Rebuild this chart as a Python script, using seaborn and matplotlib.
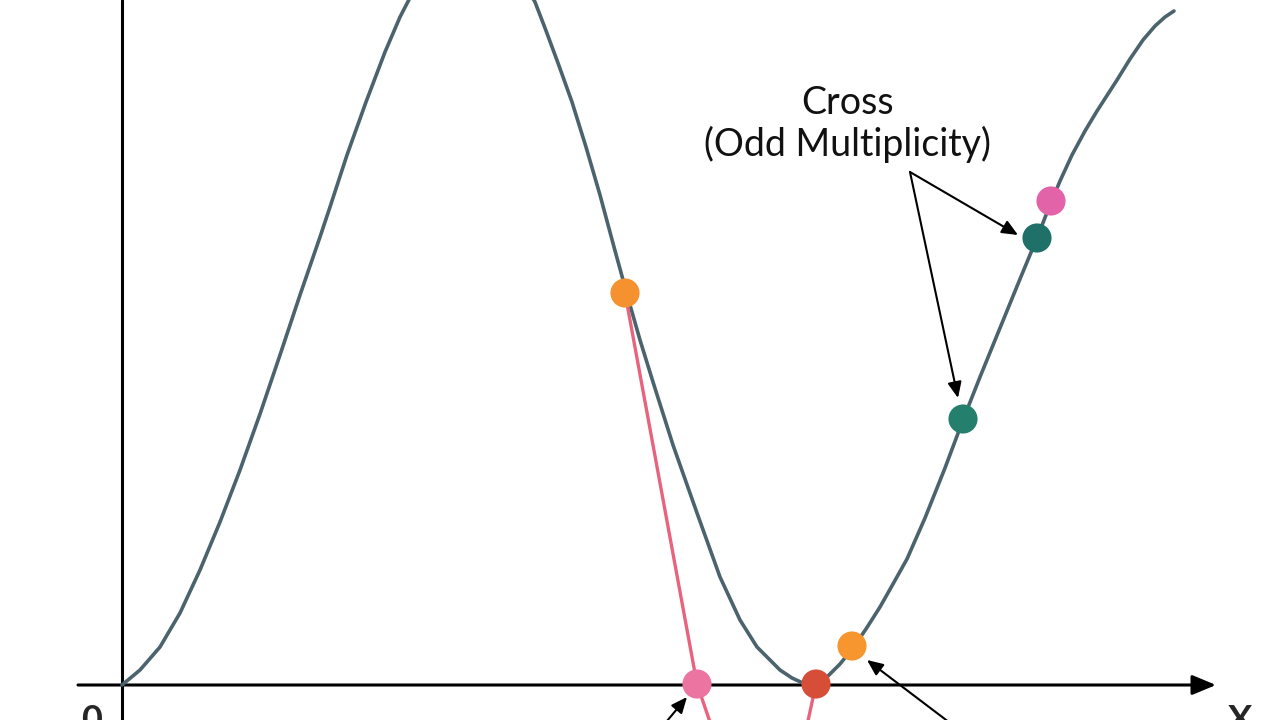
import matplotlib.pyplot as plt
import pandas as pd
import seaborn as sns

# curve (x, y in plot units, origin at the axes corner)
curve_x = [0.00, 0.18, 0.38, 0.58, 0.78, 0.98, 1.18, 1.38, 1.58, 1.78, 1.98, 2.08,
           2.25, 2.44, 2.63, 2.78, 2.93, 3.08, 3.23, 3.38, 3.48, 3.58, 3.73, 3.88,
           4.00, 4.13, 4.23, 4.36, 4.50, 4.64, 4.78, 4.92, 5.06, 5.18, 5.31, 5.51,
           5.75, 5.98, 6.18, 6.35, 6.48, 6.58, 6.70, 6.83, 6.94, 7.05, 7.18, 7.31,
           7.44, 7.58, 7.71, 7.85, 8.03, 8.23, 8.41, 8.58, 8.78, 8.98, 9.15, 9.26,
           9.38, 9.50, 9.63, 9.75, 9.95, 10.08, 10.21, 10.33, 10.43, 10.52]
curve_y = [0.00, 0.15, 0.38, 0.72, 1.15, 1.63, 2.15, 2.71, 3.30, 3.90, 4.48, 4.78,
           5.30, 5.83, 6.33, 6.68, 6.97, 7.18, 7.32, 7.41, 7.43, 7.42, 7.35, 7.21,
           7.05, 6.83, 6.57, 6.22, 5.83, 5.38, 4.90, 4.38, 3.87, 3.45, 3.03, 2.40,
           1.72, 1.08, 0.65, 0.38, 0.25, 0.15, 0.07, 0.01, 0.02, 0.08, 0.21, 0.37,
           0.56, 0.78, 1.01, 1.26, 1.67, 2.17, 2.65, 3.08, 3.57, 4.06, 4.47, 4.75,
           5.04, 5.30, 5.54, 5.74, 6.05, 6.26, 6.45, 6.59, 6.68, 6.74]

# highlighted points
pt_x = [5.03, 5.75, 6.94, 7.30, 8.41, 9.15, 9.29]
pt_y = [3.92, 0.01, 0.01, 0.39, 2.66, 4.47, 4.84]
pt_color = ["#f5912e", "#ec74a0", "#d64e37", "#f7962f", "#24806c", "#1f7069", "#e263a8"]

# straight pink segments
seg1_x = [5.03, 5.75, 5.89]
seg1_y = [3.92, 0.01, -0.40]
seg2_x = [6.94, 6.84]
seg2_y = [0.01, -0.45]

label = "Cross\n(Odd Multiplicity)"

sns.set_theme(style="white")
plt.rcParams["font.family"] = ["Lato", "DejaVu Sans"]

fig = plt.figure(figsize=(12.8, 7.2), dpi=100)
ax = fig.add_axes([0, 0, 1, 1])
ax.set_xlim(-1.22, 11.58)
ax.set_ylim(-0.35, 6.85)
ax.axis("off")

# axes
ax.axvline(0, color="black", lw=2.2, zorder=1)
ax.annotate("", xy=(10.94, 0), xytext=(-0.44, 0),
            arrowprops=dict(arrowstyle="-|>,head_length=1.2,head_width=0.5",
                            color="black", lw=2.2, shrinkA=0, shrinkB=0), zorder=1)

curve = pd.DataFrame({"x": curve_x, "y": curve_y})
sns.lineplot(data=curve, x="x", y="y", sort=False, color="#4b636c", lw=2.6, ax=ax,
             zorder=2, solid_joinstyle="round", solid_capstyle="round")

ax.plot(seg1_x, seg1_y, color="#e8637d", lw=2.4, solid_capstyle="round", zorder=2)
ax.plot(seg2_x, seg2_y, color="#e8637d", lw=2.4, solid_capstyle="round", zorder=2)

pts = pd.DataFrame({"x": pt_x, "y": pt_y, "c": pt_color})
sns.scatterplot(data=pts, x="x", y="y", hue="c", palette=dict(zip(pt_color, pt_color)),
                s=440, edgecolor="none", legend=False, ax=ax, zorder=4)

ax.text(7.26, 5.61, label, ha="center", va="center", fontsize=27,
        linespacing=1.15, color="#111111")

arrow = dict(arrowstyle="-|>,head_length=0.8,head_width=0.35", color="black", lw=1.5,
             shrinkA=0, shrinkB=0)
ax.annotate("", xy=(8.96, 4.50), xytext=(7.88, 5.13), arrowprops=arrow)
ax.annotate("", xy=(8.36, 2.87), xytext=(7.88, 5.13), arrowprops=arrow)
ax.annotate("", xy=(5.65, -0.12), xytext=(5.40, -0.42), arrowprops=arrow)
ax.annotate("", xy=(7.45, 0.25), xytext=(8.40, -0.47), arrowprops=arrow)

ax.text(-0.30, -0.19, "0", ha="center", va="top", fontsize=26, fontweight="bold")
ax.text(11.18, -0.19, "X", ha="center", va="top", fontsize=26, fontweight="bold")

fig.savefig("out.png", dpi=100)
